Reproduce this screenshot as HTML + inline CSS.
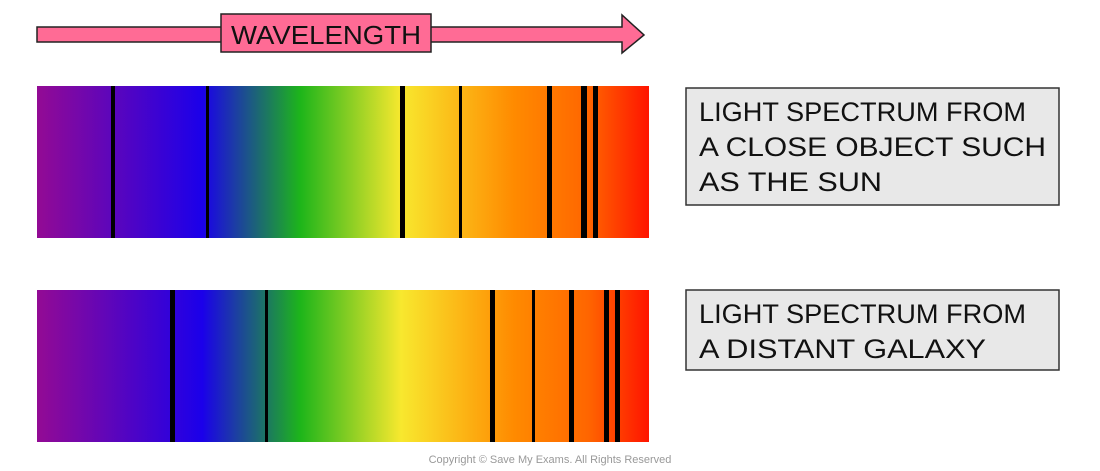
<!DOCTYPE html>
<html><head><meta charset="utf-8"><style>
html,body{margin:0;padding:0;background:#fff;width:1100px;height:471px;overflow:hidden}
</style></head><body>
<svg width="1100" height="471" viewBox="0 0 1100 471" xmlns="http://www.w3.org/2000/svg" font-family="Liberation Sans, sans-serif">
<defs>
<linearGradient id="g" x1="0" x2="1" y1="0" y2="0">
<stop offset="0" stop-color="#930a94"/>
<stop offset="0.27" stop-color="#1b00ea"/>
<stop offset="0.43" stop-color="#1db51a"/>
<stop offset="0.595" stop-color="#f8e82e"/>
<stop offset="0.78" stop-color="#ff8a00"/>
<stop offset="0.9" stop-color="#ff6600"/>
<stop offset="1" stop-color="#ff1400"/>
</linearGradient>
</defs>
<!-- arrow -->
<polygon points="37,27 622,27 622,15 644,35 622,53 622,42 37,42" fill="#ff6b95" stroke="#222" stroke-width="1.5"/>
<rect x="221" y="14" width="210" height="38" fill="#ff6b95" stroke="#222" stroke-width="1.5"/>
<text x="231" y="44" font-size="26" textLength="190" lengthAdjust="spacingAndGlyphs" fill="#111">WAVELENGTH</text>
<!-- top spectrum -->
<rect x="37" y="86" width="612" height="152" fill="url(#g)"/>
<g fill="#000">
<rect x="111" y="86" width="4" height="152"/>
<rect x="206" y="86" width="3" height="152"/>
<rect x="400" y="86" width="5" height="152"/>
<rect x="459" y="86" width="3" height="152"/>
<rect x="547" y="86" width="5" height="152"/>
<rect x="581" y="86" width="6" height="152"/>
<rect x="593" y="86" width="5" height="152"/>
</g>
<!-- bottom spectrum -->
<rect x="37" y="290" width="612" height="152" fill="url(#g)"/>
<g fill="#000">
<rect x="170" y="290" width="5" height="152"/>
<rect x="265" y="290" width="3" height="152"/>
<rect x="490" y="290" width="5" height="152"/>
<rect x="532" y="290" width="3" height="152"/>
<rect x="569" y="290" width="5" height="152"/>
<rect x="604" y="290" width="5" height="152"/>
<rect x="615" y="290" width="5" height="152"/>
</g>
<!-- text boxes -->
<rect x="686" y="88" width="373" height="117" fill="#e8e8e8" stroke="#333" stroke-width="1.5"/>
<g font-size="27" fill="#111" lengthAdjust="spacingAndGlyphs">
<text x="699" y="121" textLength="327" lengthAdjust="spacingAndGlyphs">LIGHT  SPECTRUM FROM</text>
<text x="699" y="156" textLength="347" lengthAdjust="spacingAndGlyphs">A  CLOSE  OBJECT   SUCH</text>
<text x="699" y="191" textLength="183" lengthAdjust="spacingAndGlyphs">AS  THE  SUN</text>
</g>
<rect x="686" y="290" width="373" height="80" fill="#e8e8e8" stroke="#333" stroke-width="1.5"/>
<g font-size="27" fill="#111">
<text x="699" y="323" textLength="327" lengthAdjust="spacingAndGlyphs">LIGHT  SPECTRUM FROM</text>
<text x="699" y="358" textLength="287" lengthAdjust="spacingAndGlyphs">A  DISTANT  GALAXY</text>
</g>
<text x="550" y="463" font-size="11" fill="#999" text-anchor="middle">Copyright © Save My Exams. All Rights Reserved</text>
</svg>
</body></html>
